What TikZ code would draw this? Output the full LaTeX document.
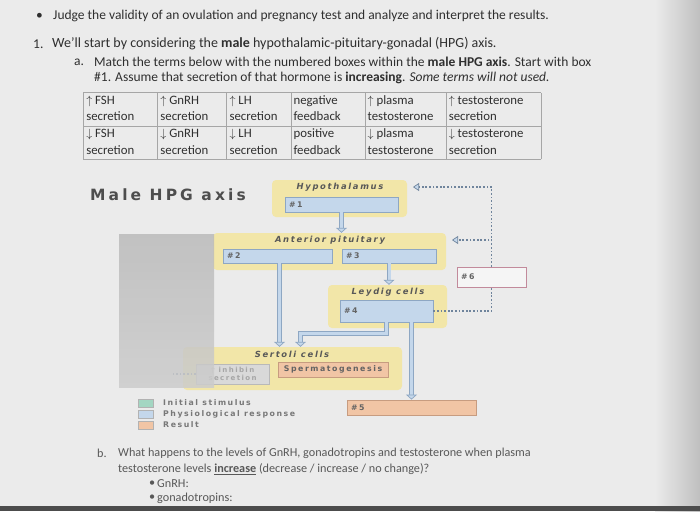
\documentclass[tikz,border=0pt]{standalone}
\usepackage{fontspec}
\usepackage{array}
\setmainfont{Carlito}
\newfontfamily\diag[LetterSpace=20]{DejaVu Sans}
\usetikzlibrary{arrows.meta}

\definecolor{paper}{HTML}{EBEBEB}
\definecolor{ink}{HTML}{2F2F2F}
\definecolor{zone}{HTML}{F2E6A8}
\definecolor{resp}{HTML}{C4D7EB}
\definecolor{respline}{HTML}{8EA7C3}
\definecolor{result}{HTML}{F1C5A5}
\definecolor{resultline}{HTML}{C79C80}
\definecolor{initc}{HTML}{A3D6C2}
\definecolor{fbline}{HTML}{6F849C}
\definecolor{sixline}{HTML}{C28A9B}

\newcommand\incr{$\uparrow$}
\newcommand\decr{$\downarrow$}
\newcolumntype{T}[1]{>{\leavevmode\color{ink}}p{#1}}

\tikzset{
  txt/.style={anchor=west, inner sep=0pt, text=ink, font=\fontsize{13.5}{16}\selectfont},
  smalltxt/.style={anchor=west, inner sep=0pt, text=ink!80, font=\fontsize{12.2}{15}\selectfont},
  zonebox/.style={fill=zone, rounded corners=4pt},
  zonelabel/.style={inner sep=0pt, text=ink!80, font=\diag\bfseries\itshape\fontsize{8.4}{10}\selectfont},
  respbox/.style={draw=respline, fill=resp, line width=0.8pt, inner xsep=4pt, inner ysep=0pt, align=left, text=ink!75, font=\diag\bfseries\fontsize{7.8}{9}\selectfont},
  resultbox/.style={respbox, draw=resultline, fill=result},
  pipe/.style={draw=respline, double=resp, double distance=3pt, line width=0.8pt, -{Triangle[fill=resp, length=5pt, width=11pt, line width=0.7pt]}},
  fb/.style={draw=fbline, line width=1.5pt, dash pattern=on 1.7pt off 1.9pt},
  fbtip/.style={fb, -{Triangle[fill=resp, length=6pt, width=8pt, line width=0.7pt]}},
  key/.style={draw=gray!60, minimum width=15pt, minimum height=8pt, inner sep=0pt},
  keytext/.style={anchor=west, inner sep=0pt, text=ink!65, font=\diag\bfseries\fontsize{7.8}{9}\selectfont}
}

\begin{document}
\begin{tikzpicture}[x=1pt, y=-1pt]
% page
\fill[paper] (0,0) rectangle (700,511);
\shade[left color=paper, right color=black!25] (655,0) rectangle (700,511);
\fill[black!70] (0,506) rectangle (700,511);

% instructions
\node[txt] (b0) at (36,16) {\textbullet};
\node[txt] (l0) at (53,16) {Judge the validity of an ovulation and pregnancy test and analyze and interpret the results.};
\node[txt] (q1) at (33,44) {1.};
\node[txt, font=\fontsize{14}{16}\selectfont] (l1) at (52,44) {We’ll start by considering the \textbf{male} hypothalamic-pituitary-gonadal (HPG) axis.};
\node[txt] (qa) at (74,62) {a.};
\node[txt] (l2) at (94,62) {Match the terms below with the numbered boxes within the \textbf{male HPG axis}. Start with box};
\node[txt] (l3) at (94,78) {\#1. Assume that secretion of that hormone is \textbf{increasing}. \textit{Some terms will not used.}};

% term table
\node[anchor=north west, inner sep=0pt, text=gray!70, font=\fontsize{12.8}{16.5}\selectfont] (terms) at (83,92) {%
\setlength\tabcolsep{2.5pt}\setlength\arrayrulewidth{0.6pt}%
\begin{tabular}{|T{68.5pt}|T{63.5pt}|T{58.5pt}|T{68.5pt}|T{75.5pt}|T{89.5pt}|}
\hline
\incr\ FSH\newline secretion & \incr\ GnRH\newline secretion & \incr\ LH\newline secretion & negative\newline feedback & \incr\ plasma\newline testosterone & \incr\ testosterone\newline secretion\\
\hline
\decr\ FSH\newline secretion & \decr\ GnRH\newline secretion & \decr\ LH\newline secretion & positive\newline feedback & \decr\ plasma\newline testosterone & \decr\ testosterone\newline secretion\\
\hline
\end{tabular}};

% HPG diagram
\node[anchor=west, inner sep=0pt, text=ink!85, font=\diag\bfseries\fontsize{15.5}{18}\selectfont] (title) at (90,195) {Male HPG axis};

\node[zonebox, minimum width=135pt, minimum height=37pt] (hyp) at (339.5,198.5) {};
\node[zonebox, minimum width=233pt, minimum height=37pt] (ap) at (329.5,251.5) {};
\node[zonebox, minimum width=119pt, minimum height=43pt] (ley) at (387.5,306.5) {};
\node[zonebox, minimum width=219pt, minimum height=43pt] (ser) at (292.5,368.5) {};
\node[zonelabel] (hypl) at (340,187.5) {Hypothalamus};
\node[zonelabel] (apl) at (330,240.5) {Anterior pituitary};
\node[zonelabel] (leyl) at (388,292.5) {Leydig cells};
\node[zonelabel] (serl) at (292,354.5) {Sertoli cells};

\node[respbox, text width=105pt, minimum height=15pt] (n1) at (341.5,204.5) {\#1};
\node[respbox, text width=101pt, minimum height=14pt] (n2) at (277.5,256) {\#2};
\node[respbox, text width=86pt, minimum height=14pt] (n3) at (389,256) {\#3};
\node[respbox, text width=85pt, minimum height=22pt] (n4) at (386.5,311) {\#4};
\node[resultbox, text width=121pt, minimum height=15pt] (n5) at (411.5,407.5) {\#5};
\node[resultbox, align=center, text width=102pt, minimum height=15pt] (sperm) at (333,369.5) {Spermatogenesis};
\node[respbox, draw=sixline, fill=white!92!gray, text width=61pt, minimum height=20pt] (n6) at (491.5,277) {\#6};
\node[draw=gray!55, fill=gray!30, minimum width=73pt, minimum height=20pt, inner sep=0pt, align=center, text=gray!70, font=\diag\bfseries\fontsize{7}{8}\selectfont] (inh) at (232.5,374) {\incr\ inhibin\\secretion};

\draw[pipe] (n1) -- (n1 |- ap.north);
\draw[pipe] (n3) -- (n3 |- ley.north);
\draw[pipe] ([xshift=2pt]n2.south) -- ([xshift=2pt]n2.south |- ser.north);
\draw[pipe] (n4.south) -- ++(0,11) -| ([xshift=8pt]ser.north);
\draw[pipe] ([xshift=25pt]n4.south) -- ([xshift=25pt]n4.south |- n5.north);

% feedback
\coordinate (fbh) at (413,187);
\coordinate (fba) at (452,240);
\coordinate (inhx) at (172,370);
\draw[fb] (n4.east) -| (n6.south);
\draw[fbtip] (n6.north) |- (fbh);
\draw[fbtip] (n6.north) |- (fba);
\draw[fb] (inh.west) -- (inh.west -| inhx);

% grey cover
\shade[top color=black!27, bottom color=black!20, opacity=.85] (119,234) rectangle (214,387);

% key
\node[key, fill=initc] (k1) at (145.5,403) {};
\node[key, fill=resp] (k2) at (145.5,414) {};
\node[key, fill=result] (k3) at (145.5,425) {};
\node[keytext] (t1) at (163,403) {Initial stimulus};
\node[keytext] (t2) at (163,414) {Physiological response};
\node[keytext] (t3) at (163,425) {Result};

% part b
\node[smalltxt] (qb) at (97,453) {b.};
\node[smalltxt] (l4) at (118,453) {What happens to the levels of GnRH, gonadotropins and testosterone when plasma};
\node[smalltxt] (l5) at (118,469) {testosterone levels \textbf{\underline{increase}} (decrease / increase / no change)?};
\node[smalltxt] (b1) at (149,484) {\textbullet};
\node[smalltxt] (l6) at (157,484) {GnRH:};
\node[smalltxt] (b2) at (149,498) {\textbullet};
\node[smalltxt] (l7) at (157,498) {gonadotropins:};
\end{tikzpicture}
\end{document}
